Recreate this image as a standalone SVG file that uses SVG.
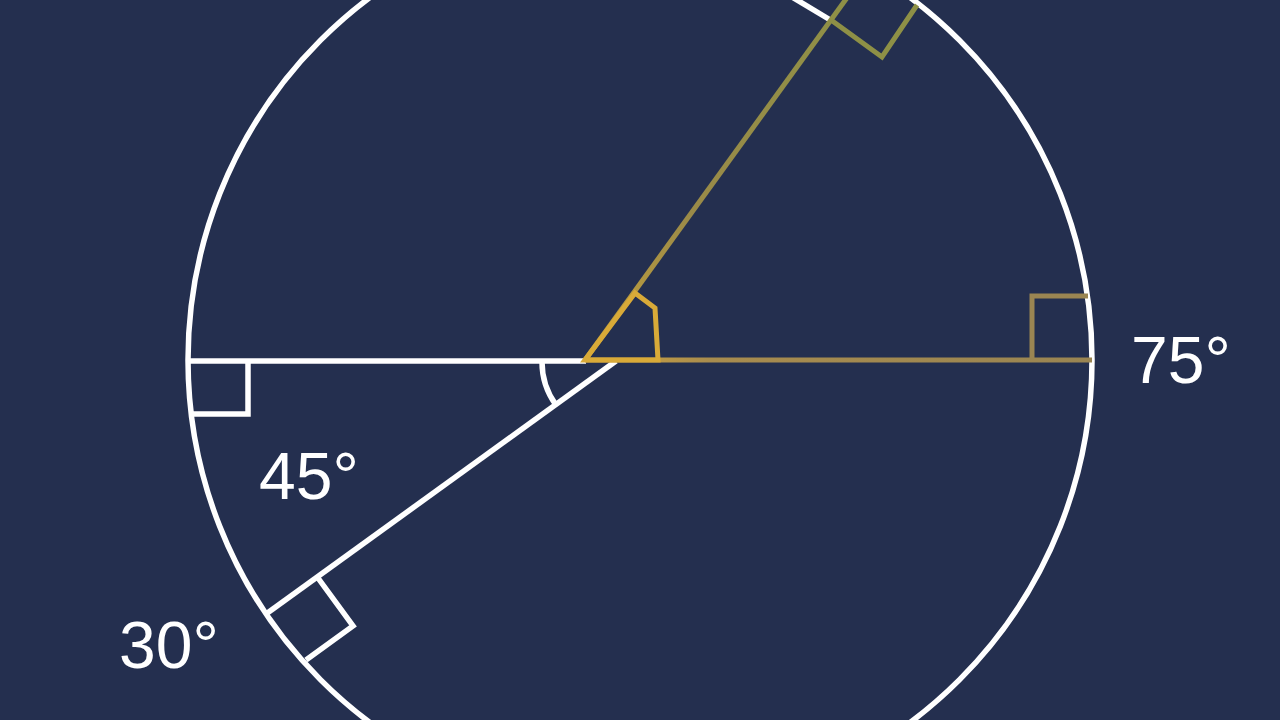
<svg xmlns="http://www.w3.org/2000/svg" width="1280" height="720" viewBox="0 0 1280 720">
  <defs>
    <style>
      .w { fill: none; stroke: #ffffff; stroke-width: 5.5; stroke-linejoin: miter; }
      .g { fill: none; stroke-width: 5; stroke-linejoin: miter; }
      .lbl { font-family: "Liberation Sans", Arial, sans-serif; font-size: 66px; fill: #ffffff; }
    </style>
    <linearGradient id="gH" gradientUnits="userSpaceOnUse" x1="585" y1="360" x2="1092" y2="360">
      <stop offset="0" stop-color="#d6a83a"/>
      <stop offset="0.25" stop-color="#a88c4e"/>
      <stop offset="1" stop-color="#9a8552"/>
    </linearGradient>
    <linearGradient id="gD" gradientUnits="userSpaceOnUse" x1="585" y1="360" x2="849" y2="-5">
      <stop offset="0" stop-color="#c8a23a"/>
      <stop offset="0.4" stop-color="#9a8a48"/>
      <stop offset="1" stop-color="#8e9046"/>
    </linearGradient>
  </defs>
  <rect x="0" y="0" width="1280" height="720" fill="#242f4f"/>

  <g id="circle">
    <circle cx="640" cy="360" r="452" class="w"/>
  </g>

  <g id="connectors">
    <line id="white-radius-horizontal" x1="188" y1="361" x2="586" y2="361" class="w"/>
    <line id="white-radius-diagonal" x1="616" y1="361" x2="266" y2="614" class="w"/>
    <line id="white-tangent" x1="792" y1="-3" x2="832" y2="21" class="w"/>
    <line id="gold-radius-horizontal" x1="585" y1="360" x2="1092" y2="360" class="g" stroke="url(#gH)"/>
    <line id="gold-radius-diagonal" x1="585" y1="360" x2="849" y2="-5" class="g" stroke="url(#gD)"/>
  </g>

  <g id="right-angle-left">
    <polyline points="248,361 248,414 189,414" class="w"/>
  </g>
  <g id="right-angle-bottom">
    <polyline points="318,578 353,626 306,660" class="w"/>
  </g>
  <g id="angle-arc-white">
    <path d="M 542 362 A 73 73 0 0 0 556 405" class="w"/>
  </g>
  <g id="right-angle-right">
    <polyline points="1032,360 1032,296 1088,296" class="g" stroke="#9a8552"/>
  </g>
  <g id="right-angle-top">
    <polyline points="831,20 882,57 917,5" class="g" stroke="#8e9046"/>
  </g>
  <g id="angle-mark-gold">
    <polygon points="585,360 635,293 655,308 658,360" class="g" stroke="#d9aa38"/>
  </g>

  <g id="label-75">
    <text x="1131" y="383" class="lbl">75°</text>
  </g>
  <g id="label-45">
    <text x="259" y="499" class="lbl">45°</text>
  </g>
  <g id="label-30">
    <text x="119" y="668" class="lbl">30°</text>
  </g>
</svg>
